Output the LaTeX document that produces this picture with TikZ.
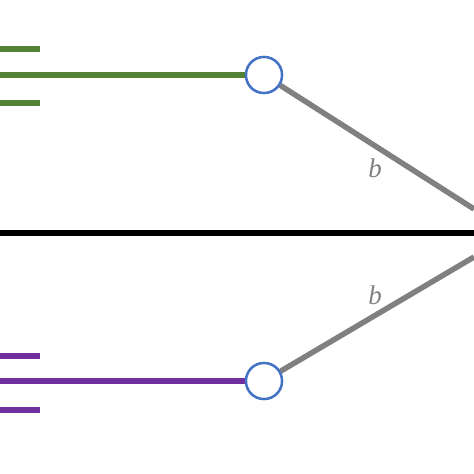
\documentclass[tikz,border=0pt]{standalone}
\usepackage{fontspec}
\setmainfont{Liberation Serif}
\definecolor{dgreen}{HTML}{548235}
\definecolor{dpurple}{HTML}{7030A0}
\definecolor{cblue}{HTML}{4472C4}
\definecolor{lgray}{HTML}{808080}
\begin{document}
\begin{tikzpicture}[x=1pt,y=-1pt,
  junction/.style={circle,draw=cblue,line width=2.4pt,fill=white,minimum size=36pt,inner sep=0pt},
  gline/.style={dgreen,line width=6.5pt},
  pline/.style={dpurple,line width=6.5pt},
  bline/.style={lgray,line width=5.5pt},
  lbl/.style={lgray,font=\fontsize{27}{27}\selectfont\itshape}]
\useasboundingbox (0,0) rectangle (474,474);
% coordinates
\coordinate (g1a) at (0,49); \coordinate (g1b) at (40,49);
\coordinate (g2a) at (0,75);
\coordinate (g3a) at (0,103); \coordinate (g3b) at (40,103);
\coordinate (p1a) at (0,356); \coordinate (p1b) at (40,356);
\coordinate (p2a) at (0,381);
\coordinate (p3a) at (0,410); \coordinate (p3b) at (40,410);
\coordinate (ta) at (474,209);
\coordinate (tb) at (474,257);
\coordinate (ha) at (0,233); \coordinate (hb) at (474,233);
% lines
\draw[gline] (g1a) -- (g1b);
\draw[gline] (g3a) -- (g3b);
\draw[pline] (p1a) -- (p1b);
\draw[pline] (p3a) -- (p3b);
\draw[black,line width=6.5pt] (ha) -- (hb);
\node[junction] (c1) at (264,75) {};
\node[junction] (c2) at (264,381) {};
\draw[gline] (g2a) -- (c1.west);
\draw[pline] (p2a) -- (c2.west);
\draw[bline] (c1) -- (ta);
\draw[bline] (c2) -- (tb);
\node[junction] at (c1) {};
\node[junction] at (c2) {};
\node[lbl] (b1) at (375,168) {b};
\node[lbl] (b2) at (375,295) {b};
\end{tikzpicture}
\end{document}
